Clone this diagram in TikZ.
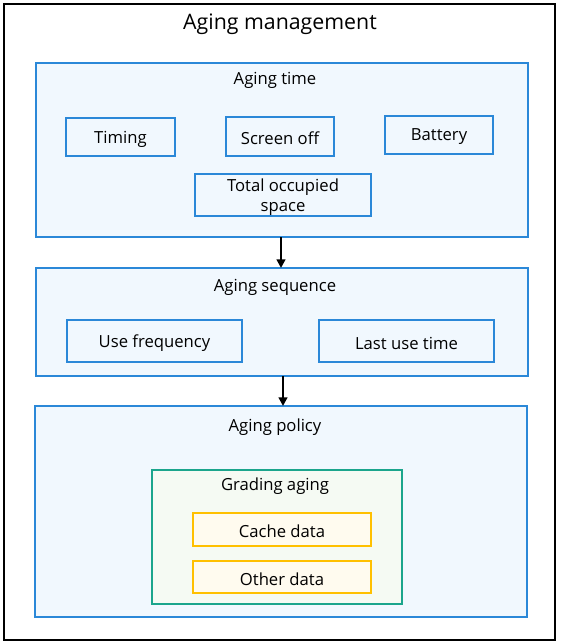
\documentclass[tikz,border=0pt]{standalone}
\usepackage{fontspec}
\setmainfont{Open Sans}
\usetikzlibrary{arrows.meta}
\definecolor{bblue}{HTML}{2B88D8}
\definecolor{bfill}{HTML}{F1F8FE}
\definecolor{ggreen}{HTML}{1BA58C}
\definecolor{gfill}{HTML}{F5FAF3}
\definecolor{yyel}{HTML}{FFC000}
\definecolor{yfill}{HTML}{FFFBEF}
\tikzset{
  px/.style={x=0.75pt,y=-0.75pt},
  bluebox/.style={draw=bblue,fill=bfill,line width=1.5pt},
  greenbox/.style={draw=ggreen,fill=gfill,line width=1.5pt},
  yelbox/.style={draw=yyel,fill=yfill,line width=1.5pt},
  lbl/.style={font=\fontsize{12.5}{13}\selectfont,align=center,inner sep=0pt,yshift=-1.5pt},
  flow/.style={-{Triangle[length=6.5pt,width=6.5pt]},line width=1.6pt,black}
}
\begin{document}
\begin{tikzpicture}[px]
\useasboundingbox (0,0) rectangle (561,644);
\fill[white] (0,0) rectangle (561,644);
\draw[line width=1.6pt] (4,4) rectangle (555,640);
\node[inner sep=0pt,font=\fontsize{16}{17}\selectfont,yshift=-1.5pt] (title) at (280,22) {Aging management};
% Aging time
\draw[bluebox] (36,63) rectangle (528,237);
\coordinate (timeB) at (281,237);
\node[lbl] (timeT) at (275,78) {Aging time};
\draw[bluebox] (66,118) rectangle (175,156);
\node[lbl] (timing) at (120.5,137) {Timing};
\draw[bluebox] (226,117) rectangle (334,156);
\node[lbl] (screen) at (280,136.5) {Screen off};
\draw[bluebox] (385,116) rectangle (493,154);
\node[lbl] (battery) at (439,135) {Battery};
\draw[bluebox] (195,174) rectangle (371,216);
\node[lbl,font=\fontsize{12.5}{15}\selectfont] (total) at (283,195) {Total occupied\\space};
% Aging sequence
\draw[bluebox] (36,268) rectangle (528,376);
\coordinate (seqT) at (281,268);
\coordinate (seqB) at (283,376);
\node[lbl] (seqL) at (275,285) {Aging sequence};
\draw[bluebox] (67,320) rectangle (242,362);
\node[lbl] (freq) at (154.5,341) {Use frequency};
\draw[bluebox] (319,320) rectangle (494,362);
\node[lbl] (last) at (406.5,341) {Last use time};
% Aging policy
\draw[bluebox] (35,406) rectangle (527,617);
\coordinate (polT) at (283,406);
\node[lbl] (polL) at (275,425) {Aging policy};
\draw[greenbox] (152,470) rectangle (402,604);
\node[lbl] (grade) at (275,484) {Grading aging};
\draw[yelbox] (193,513) rectangle (371,546);
\node[lbl] (cache) at (282,529.5) {Cache data};
\draw[yelbox] (193,561) rectangle (371,593);
\node[lbl] (other) at (282,577) {Other data};
% arrows
\draw[flow] (timeB) -- (seqT);
\draw[flow] (seqB) -- (polT);
\end{tikzpicture}
\end{document}
